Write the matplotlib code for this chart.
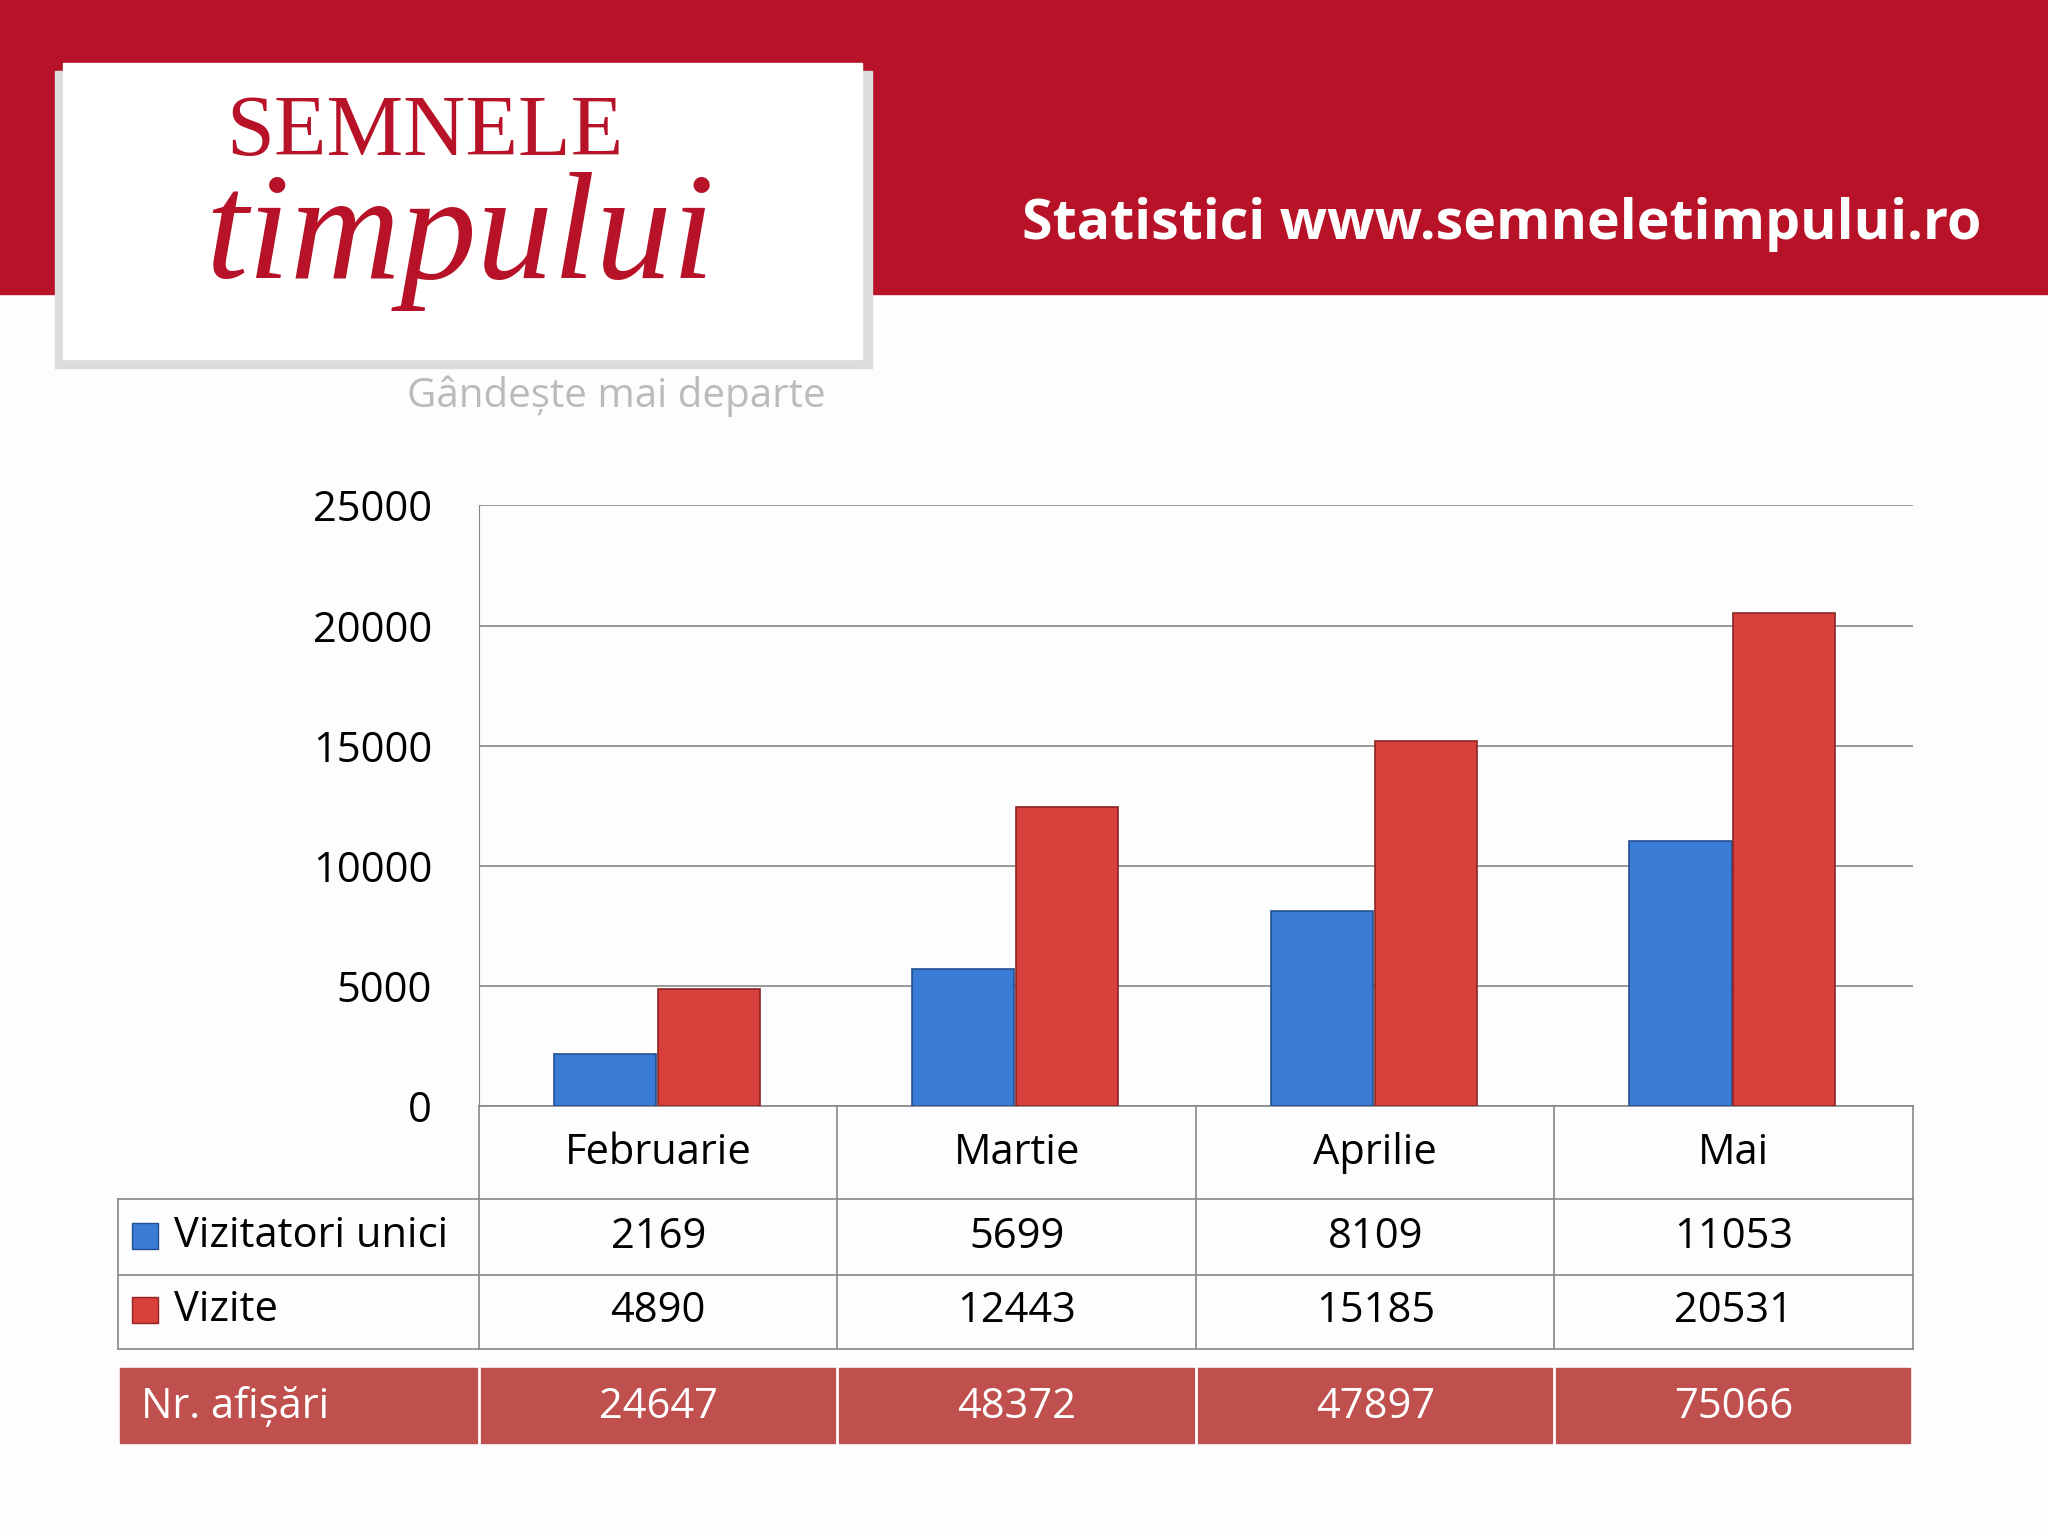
import matplotlib
matplotlib.use("Agg")
import matplotlib.pyplot as plt
from matplotlib.patches import Rectangle

months = ["Februarie", "Martie", "Aprilie", "Mai"]
vizitatori = [2169, 5699, 8109, 11053]
vizite = [4890, 12443, 15185, 20531]
afisari = [24647, 48372, 47897, 75066]
yticks = [0, 5000, 10000, 15000, 20000, 25000]

W, H = 1568, 1176
fig = plt.figure(figsize=(20.48, 15.36), dpi=100)
fig.patch.set_facecolor("#FDFCFE")
ov = fig.add_axes([0, 0, 1, 1])
ov.set_xlim(0, W); ov.set_ylim(H, 0); ov.axis("off")
font = "Open Sans"
fs = 30

# header
ov.add_patch(Rectangle((0, 0), W, 225, color="#B71228", zorder=0))
ov.add_patch(Rectangle((42, 54), 626, 228, color="#dcdcdc", zorder=1))
ov.add_patch(Rectangle((48, 48), 612, 227, color="white", zorder=2))
ov.text(325, 103, "SEMNELE", color="#B71228", fontsize=62, family="Liberation Serif",
        ha="center", va="center", zorder=3)
ov.text(352, 185, "timpului", color="#B71228", fontsize=110, family="Liberation Serif",
        style="italic", ha="center", va="center", zorder=3)
ov.text(472, 303, "Gândește mai departe", color="#BBBBBB", fontsize=29, family=font,
        ha="center", va="center")
ov.text(1150, 172, "Statistici www.semneletimpului.ro", color="white", fontsize=40,
        family=font, weight="bold", ha="center", va="center")

# chart axes
x0, x1, ytop, ybot = 367, 1465, 387, 847
ax = fig.add_axes([x0 / W, 1 - ybot / H, (x1 - x0) / W, (ybot - ytop) / H])
ax.set_facecolor("none")
ax.set_xlim(0, 4); ax.set_ylim(0, 25000)
ax.set_yticks(yticks)
ax.set_yticklabels([str(t) for t in yticks], fontsize=fs, family=font)
ax.tick_params(axis="y", length=0, pad=34)
ax.set_xticks([])
ax.grid(axis="y", color="#888888", lw=1.2)
ax.set_axisbelow(True)
for s in ["top", "right", "bottom"]:
    ax.spines[s].set_visible(False)
ax.spines["left"].set_color("#888888")
bw = 0.285
for i in range(4):
    ax.bar(i + 0.35, vizitatori[i], bw, color="#3A7BD5", edgecolor="#23508f", lw=1.2, zorder=3)
    ax.bar(i + 0.64, vizite[i], bw, color="#D8403B", edgecolor="#8f2420", lw=1.2, zorder=3)

# table
lc = "#888888"
colx = [367, 641, 916, 1190, 1465]
ov.plot([367, 1465], [847, 847], color=lc, lw=1.2)
for y in [918, 976, 1033]:
    ov.plot([90, 1465], [y, y], color=lc, lw=1.2)
for x in colx:
    ov.plot([x, x], [847, 1033], color=lc, lw=1.2)
ov.plot([90, 90], [918, 1033], color=lc, lw=1.2)
for i, m in enumerate(months):
    cx = (colx[i] + colx[i + 1]) / 2
    ov.text(cx, 883, m, fontsize=fs, family=font, ha="center", va="center")
    ov.text(cx, 947, str(vizitatori[i]), fontsize=fs, family=font, ha="center", va="center")
    ov.text(cx, 1004, str(vizite[i]), fontsize=fs, family=font, ha="center", va="center")
ov.add_patch(Rectangle((101, 936), 20, 20, color="#3A7BD5", ec="#23508f"))
ov.add_patch(Rectangle((101, 993), 20, 20, color="#D8403B", ec="#8f2420"))
ov.text(133, 946, "Vizitatori unici", fontsize=fs, family=font, va="center")
ov.text(133, 1003, "Vizite", fontsize=fs, family=font, va="center")

# afisari row
ov.add_patch(Rectangle((92, 1047), 1370, 58, color="#C0504D"))
for x in colx[:-1]:
    ov.plot([x, x], [1047, 1105], color="white", lw=2)
ov.text(108, 1077, "Nr. afișări", fontsize=fs, family=font, color="white", va="center")
for i, v in enumerate(afisari):
    cx = (colx[i] + colx[i + 1]) / 2
    ov.text(cx, 1077, str(v), fontsize=fs, family=font, color="white", ha="center", va="center")

fig.savefig("out.png", dpi=100)
